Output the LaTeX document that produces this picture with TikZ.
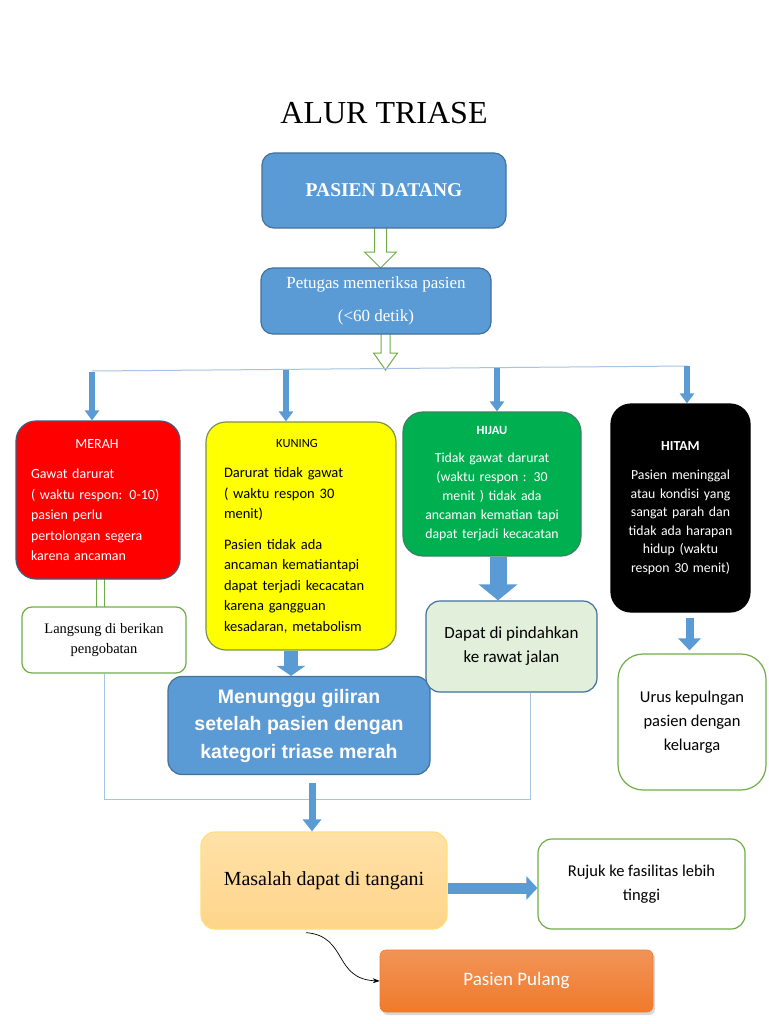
\documentclass[tikz,border=0pt]{standalone}
\usepackage{fontspec}
\setmainfont{Liberation Serif}
\newfontfamily\calib{Carlito}
\newfontfamily\arialf{Liberation Sans}
\usetikzlibrary{arrows.meta,calc,shadows}
\definecolor{bfill}{HTML}{5B9BD5}
\definecolor{bline}{HTML}{41719C}
\definecolor{gline}{HTML}{70AD47}
\definecolor{thinl}{HTML}{A7C3E0}
\definecolor{merahc}{HTML}{FF0000}
\definecolor{merahl}{HTML}{3E5C82}
\definecolor{kuningc}{HTML}{FFFF00}
\definecolor{kuningl}{HTML}{7D9150}
\definecolor{hijauc}{HTML}{00B050}
\definecolor{hijaul}{HTML}{3C7F63}
\definecolor{dapatc}{HTML}{E2EFDA}
\definecolor{mast}{HTML}{FFE2A8}
\definecolor{masb}{HTML}{FFD48A}
\definecolor{masl}{HTML}{FFDF7A}
\definecolor{oranget}{HTML}{F19458}
\definecolor{orangeb}{HTML}{F07A2B}
\tikzset{
  bluebox/.style={draw=bline, fill=bfill, line width=1.2pt, rounded corners=12pt, text=white, inner sep=0pt, align=center},
  catbox/.style={line width=1.2pt, rounded corners=20pt, inner sep=0pt},
  whitebox/.style={draw=gline, fill=white, line width=1.2pt, inner sep=0pt, align=center},
  hollow/.style={draw=gline, fill=white, line width=1pt},
  thinline/.style={draw=thinl, line width=1pt},
  barrow/.style n args={3}{draw=bfill, line width=#1, -{Triangle[width=#2, length=#3]}},
}
\begin{document}
\begin{tikzpicture}[x=1pt,y=-1pt]
\useasboundingbox (0,0) rectangle (768,1024);
\fill[white] (0,0) rectangle (768,1024);

% title
\node[font=\fontsize{32}{38}\selectfont] (title) at (384,113) {ALUR TRIASE};

% hollow arrows (drawn before boxes)
\draw[hollow] (374.5,226) -- (374.5,252) -- (364.5,252) -- (380.5,268) -- (396.5,252) -- (386.5,252) -- (386.5,226);
\draw[hollow] (381,332) -- (381,353) -- (373.5,353) -- (385.5,370) -- (397.5,353) -- (390,353) -- (390,332);
\draw[hollow] (96,578) rectangle (104,609);

% top boxes
\node[bluebox, minimum width=244pt, minimum height=75pt, font=\bfseries\fontsize{19.5}{24}\selectfont] (pd) at (384,190.5) {PASIEN DATANG};
\node[bluebox, minimum width=230pt, minimum height=66pt, font=\fontsize{17}{33}\selectfont] (pm) at (376,301) {Petugas memeriksa pasien\\(<60 detik)};

% branch line
\coordinate (bl) at (92,371);
\coordinate (br) at (688,366);
\draw[thinline] (bl) -- (br);
\coordinate (b1) at (92,372);
\coordinate (b2) at (286,370);
\coordinate (b3) at (497,368);
\coordinate (b4) at (687,366);

% category boxes
\node[catbox, draw=merahl, fill=merahc, text=white, minimum width=164pt, minimum height=158pt, text width=134pt, align=left, font=\calib\fontsize{14}{20.5}\selectfont] (merah) at (98,500)
 {\makebox[132pt]{\fontsize{14}{15}\selectfont MERAH}\\[10pt]Gawat darurat\\\mbox{( waktu respon: 0-10)}\\pasien perlu\\pertolongan segera\\karena ancaman};
\node[catbox, draw=kuningl, fill=kuningc, text=black, minimum width=190pt, minimum height=228pt, text width=154pt, align=left, font=\calib\fontsize{14.5}{20.5}\selectfont] (kuning) at (301,536)
 {\makebox[146pt]{\fontsize{12.5}{15}\selectfont KUNING}\\[10pt]Darurat tidak gawat\\( waktu respon 30\\menit)\\[10pt]Pasien tidak ada\\ancaman kematiantapi\\dapat terjadi kecacatan\\karena gangguan\\kesadaran, metabolism};
\node[catbox, draw=hijaul, fill=hijauc, text=white, minimum width=178pt, minimum height=144pt, text width=170pt, align=center, font=\calib\fontsize{13.8}{19}\selectfont] (hijau) at (492,484)
 {{\bfseries\fontsize{12.5}{15}\selectfont HIJAU}\\[9pt]Tidak gawat darurat\\(waktu respon : 30\\menit ) tidak ada\\ancaman kematian tapi\\dapat terjadi kecacatan};
\node[catbox, draw=black, fill=black, text=white, minimum width=139pt, minimum height=208pt, text width=135pt, align=center, font=\calib\fontsize{13.8}{18.5}\selectfont] (hitam) at (680.5,508)
 {{\bfseries\fontsize{13.8}{15}\selectfont HITAM}\\[11pt]Pasien meninggal\\atau kondisi yang\\sangat parah dan\\tidak ada harapan\\hidup (waktu\\respon 30 menit)};

\draw[barrow={6pt}{14pt}{10pt}] (b1) -- (b1 |- merah.north);
\draw[barrow={6pt}{14pt}{10pt}] (b2) -- (b2 |- kuning.north);
\draw[barrow={6pt}{14pt}{10pt}] (b3) -- (b3 |- hijau.north);
\draw[barrow={6pt}{14pt}{10pt}] (b4) -- (b4 |- hitam.north);

% second row
\node[whitebox, rounded corners=10pt, minimum width=164pt, minimum height=66pt, font=\fontsize{14.5}{20}\selectfont] (lang) at (104,640) {Langsung di berikan\\pengobatan};
\node[bluebox, rounded corners=14pt, minimum width=262pt, minimum height=98pt, font=\arialf\bfseries\fontsize{19.5}{27.5}\selectfont] (wait) at (299,725.5) {Menunggu giliran\\setelah pasien dengan\\kategori triase merah};
\node[draw=bline, fill=dapatc, line width=1.2pt, rounded corners=14pt, inner sep=0pt, align=center, minimum width=171pt, minimum height=91pt, font=\calib\fontsize{17}{24}\selectfont] (dapat) at (511.5,646.5) {Dapat di pindahkan\\ke rawat jalan};
\node[whitebox, rounded corners=25pt, minimum width=148pt, minimum height=136pt, font=\calib\fontsize{16.5}{24}\selectfont] (urus) at (692,722) {Urus kepulngan\\pasien dengan\\keluarga};

% arrows row 2
\coordinate (k1) at ($(kuning.south)+(-10,0)$);
\draw[barrow={14pt}{28pt}{10pt}] (k1) -- (k1 |- wait.north);
\coordinate (h1) at ($(hijau.south)+(6,0)$);
\draw[barrow={17pt}{38pt}{16pt}] (h1) -- (h1 |- dapat.north);
\coordinate (t1) at ($(hitam.south)+(9,5)$);
\draw[barrow={8pt}{22pt}{12pt}] (t1) -- ($(t1 |- urus.north)+(0,-3)$);

% feedback thin line
\coordinate (cr) at (530,799);
\draw[thinline] (lang.south) |- (cr) -- (cr |- dapat.south);

% bottom
\node[draw=masl, top color=mast, bottom color=masb, line width=1.2pt, rounded corners=14pt, inner sep=0pt, minimum width=246pt, minimum height=97pt, font=\fontsize{20}{24}\selectfont] (mas) at (324,880.5) {Masalah dapat di tangani};
\node[whitebox, rounded corners=14pt, minimum width=207pt, minimum height=90pt, font=\calib\fontsize{16.5}{24}\selectfont] (rujuk) at (641.5,884) {Rujuk ke fasilitas lebih\\tinggi};
\node[rounded corners=6pt, top color=oranget, bottom color=orangeb, draw=orangeb, line width=0.6pt, inner sep=0pt, minimum width=273pt, minimum height=62pt, text=white, font=\calib\fontsize{19}{24}\selectfont, drop shadow={shadow xshift=2pt, shadow yshift=-3pt, opacity=0.3}] (pulang) at (516.5,981) {Pasien Pulang};

\coordinate (w1) at (312,783);
\draw[barrow={7pt}{18pt}{12pt}] (w1) -- (w1 |- mas.north);
\coordinate (m1) at ($(mas.east)+(0,7.5)$);
\draw[barrow={11pt}{23pt}{11pt}] (m1) -- (m1 -| rujuk.west);
\draw[line width=0.7pt, -{Stealth[length=7pt, width=5pt]}] ($(mas.south)+(-18,3)$) .. controls (348,936) and (333,979) .. (pulang.west);
\end{tikzpicture}
\end{document}
